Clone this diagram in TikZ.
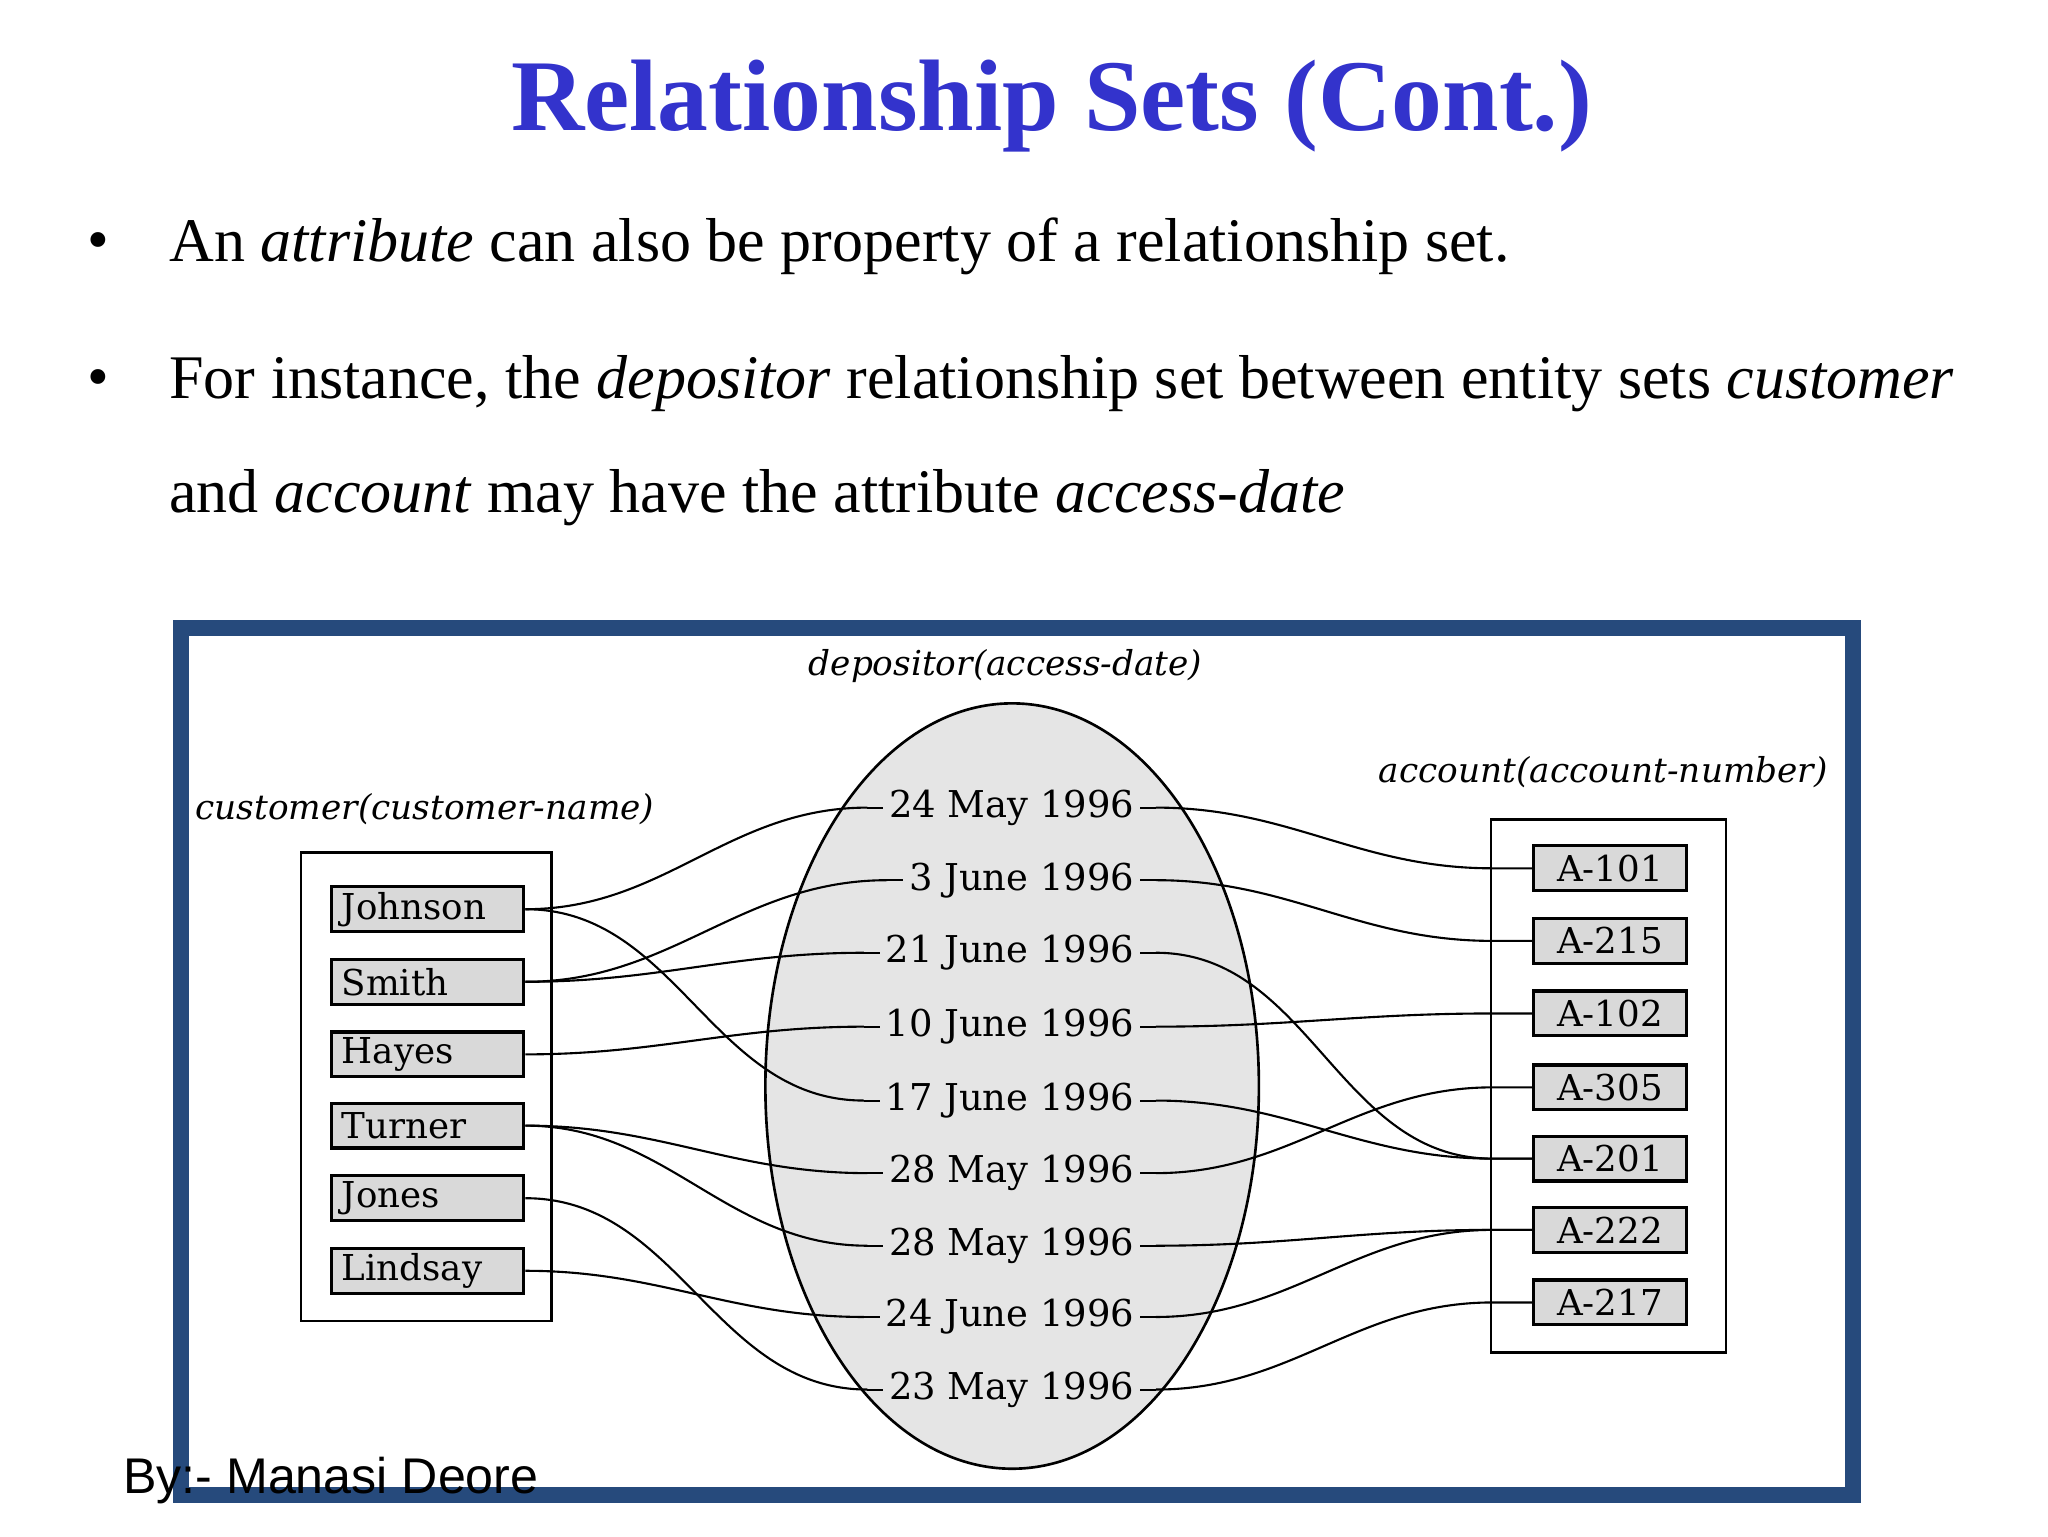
\documentclass[tikz,border=0pt]{standalone}
\usepackage{fontspec}
\usetikzlibrary{shapes.geometric}
\setmainfont{Liberation Serif}
\newfontfamily\footfont{Liberation Sans}
\newfontfamily\dgfont{DejaVu Serif}
\begin{document}
\begin{tikzpicture}[x=0.5pt,y=-0.5pt,
  ent/.style={draw,fill=gray!30,line width=1.2pt,minimum width=73pt,minimum height=17pt,inner sep=0pt,font=\dgfont\fontsize{13.5}{15}\selectfont},
  dt/.style={anchor=east,inner sep=2pt,font=\dgfont\fontsize{14}{16}\selectfont},
  lbl/.style={font=\dgfont\fontsize{13}{15}\selectfont\itshape},
  con/.style={line width=0.8pt}]
\useasboundingbox (0,0) rectangle (1552,1164);
\node[font=\fontsize{38.5}{44}\selectfont\bfseries,text={rgb,255:red,51;green,51;blue,204}] (title) at (797,80) {Relationship Sets (Cont.)};
\tikzset{bt/.style={anchor=west,inner sep=0pt,font=\fontsize{23.5}{28}\selectfont}}
\node[bt] (b1) at (66,187) {•};
\node[bt] (t1) at (128,187) {An \textit{attribute} can also be property of a relationship set.};
\node[bt] (b2) at (66,291) {•};
\node[bt] (t2) at (128,291) {For instance, the \textit{depositor} relationship set between entity sets \textit{customer}};
\node[bt] (t3) at (128,377) {and \textit{account} may have the attribute \textit{access-date}};
\draw[line width=6pt,draw={rgb,255:red,38;green,74;blue,124}] (137,476) rectangle (1404,1133);
\node[draw,fill=gray!20,line width=1pt,ellipse,minimum width=187pt,minimum height=290pt] (ell) at (767,823) {};
\node[lbl] (dl) at (762,505) {depositor(access-date)};
\node[lbl] (cl) at (322,613) {customer(customer-name)};
\node[lbl] (al) at (1215,585) {account(account-number)};
\draw[line width=1pt] (228,646) rectangle (418,1001);
\draw[line width=1pt] (1130,621) rectangle (1308,1025);
\foreach \n/\t/\y in {jo/Johnson/689,sm/Smith/744,ha/Hayes/799,tu/Turner/853,jn/Jones/908,li/Lindsay/963}
  \node[ent,text width=65pt,align=left] (\n) at (324,\y) {\t};
\foreach \n/\t/\y in {a101/A-101/658,a215/A-215/713,a102/A-102/768,a305/A-305/824,a201/A-201/878,a222/A-222/932,a217/A-217/987}
  \node[ent,minimum width=58pt] (\n) at (1220,\y) {\t};
\foreach \n/\t/\y in {d1/24 May 1996/612,d2/3 June 1996/667,d3/21 June 1996/722,d4/10 June 1996/778,d5/17 June 1996/834,d6/28 May 1996/889,d7/28 May 1996/944,d8/24 June 1996/998,d9/23 May 1996/1053}
  \node[dt] (\n) at (864,\y) {\t};
\foreach \d in {d1,d2,d3,d4,d5,d6,d7,d8,d9}{
  \coordinate (\d l) at ([xshift=-6pt]\d.west);
  \coordinate (\d r) at ([xshift=6pt]\d.east);
  \draw[con] (\d l) -- (\d.west);
  \draw[con] (\d.east) -- (\d r);}
\foreach \a/\b in {jo/d1,jo/d5,sm/d2,sm/d3,ha/d4,tu/d6,tu/d7,jn/d9,li/d8}
  \draw[con] (\a.east) to[out=0,in=180] (\b l);
\foreach \a/\b in {d1/a101,d2/a215,d3/a201,d4/a102,d5/a201,d6/a305,d7/a222,d8/a222,d9/a217}{
  \coordinate (\b w) at ([xshift=-15pt]\b.west);
  \draw[con] (\a r) to[out=0,in=180] (\b w) -- (\b.west);}
\node[anchor=west,inner sep=0pt,font=\footfont\fontsize{19}{22}\selectfont] (by) at (93,1122) {By:- Manasi Deore};
\end{tikzpicture}
\end{document}
